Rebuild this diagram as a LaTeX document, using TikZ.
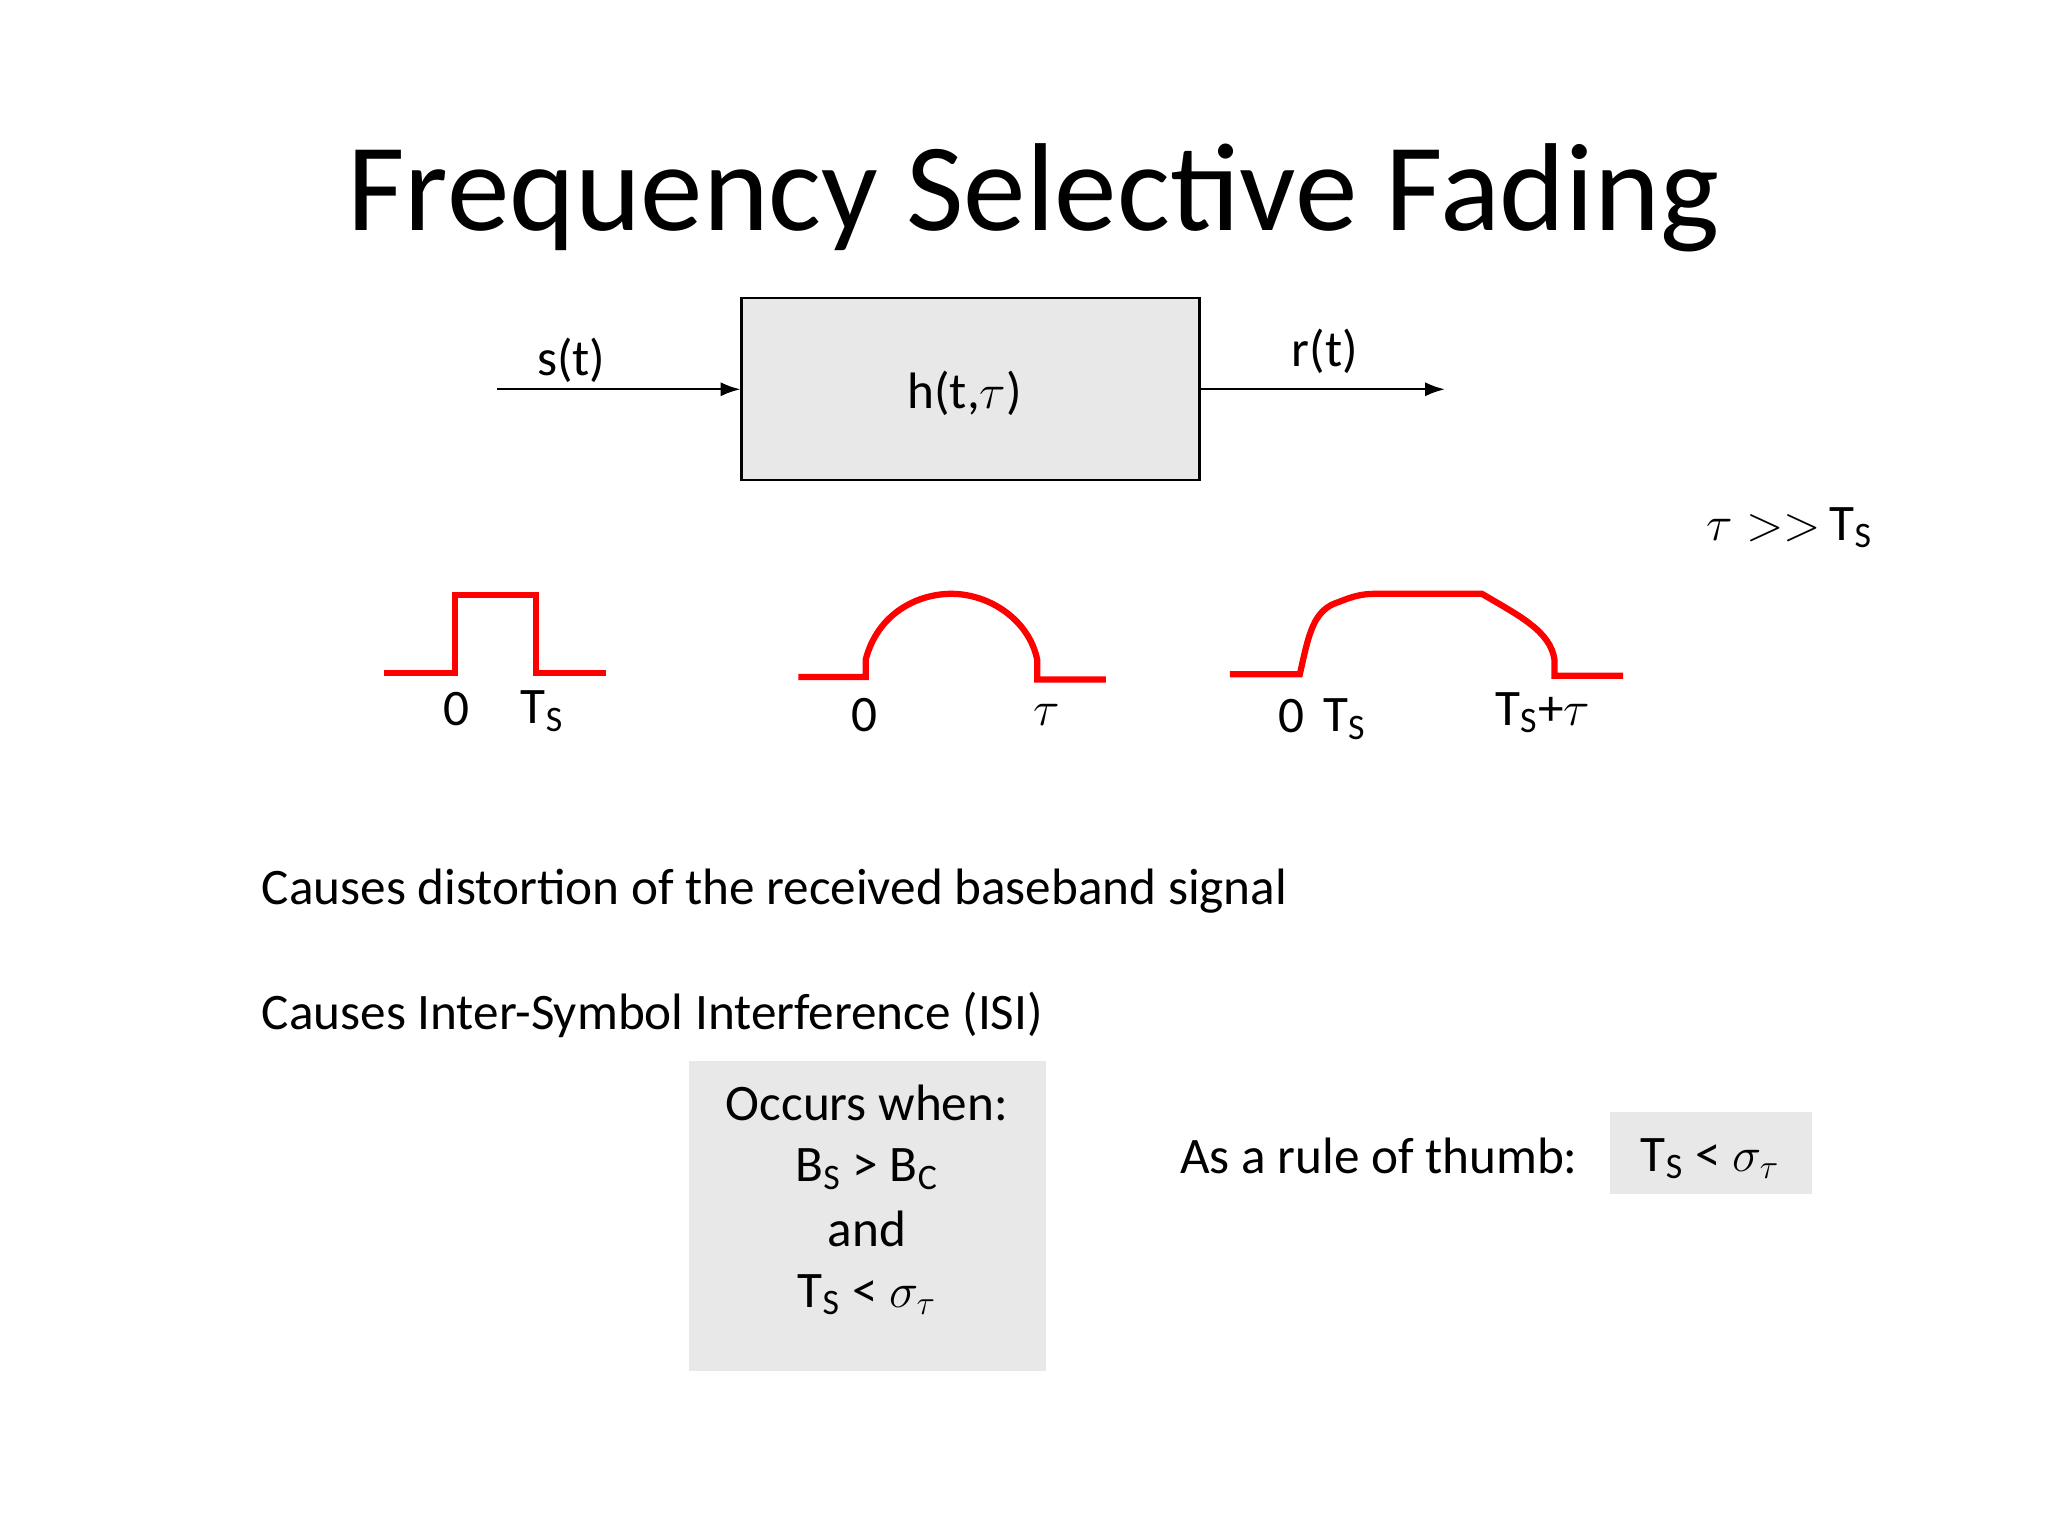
\documentclass[tikz,border=0pt]{standalone}
\usepackage{fontspec}
\setmainfont{Carlito}
\usetikzlibrary{arrows.meta}
\newcommand\TsS{T\textsubscript{S}}
\begin{document}
\begin{tikzpicture}[x=0.464pt,y=-0.464pt,
  sig/.style={red,line width=2.2pt},
  lbl/.style={font=\fontsize{18}{20}\selectfont,inner sep=0pt},
  arr/.style={-{Latex[length=7pt,width=5pt]},line width=0.8pt}]
\useasboundingbox (0,0) rectangle (1552,1164);
\node[font=\fontsize{44}{48}\selectfont] (title) at (783,150) {Frequency Selective Fading};
\node[draw=black,fill=black!9,line width=0.8pt,minimum width=347*0.464pt,minimum height=138*0.464pt] (h) at (735.5,295) {};
\node[lbl] (ht) at (731,298) {h(t,$\tau$)};
\coordinate (sin) at (377,295);
\coordinate (rout) at (1095,295);
\draw[arr] (sin) -- (h.west);
\draw[arr] (h.east) -- (rout);
\node[lbl] (st) at (433,273) {s(t)};
\node[lbl] (rt) at (1004,266) {r(t)};
\node[lbl] (cond) at (1356,400) {$\tau>>$\,\TsS};
% pulses
\draw[sig] (291,510) -- (345,510) -- (345,451) -- (406,451) -- (406,510) -- (459,510);
\node[lbl] (p10) at (346,537) {0};
\node[lbl] (p1t) at (411,539) {\TsS};
\draw[sig] (605,513) -- (656,513) -- (656,500) .. controls (665,465) and (695,450) .. (721,450) .. controls (750,450) and (780,470) .. (786,500) -- (786,515) -- (838,515);
\node[lbl] (p20) at (655,542) {0};
\node[lbl] (p2t) at (793,542) {$\tau$};
\draw[sig] (932,511) -- (985,511) .. controls (992,480) and (995,462) .. (1015,456) .. controls (1025,452) and (1032,450) .. (1042,450) -- (1123,450) .. controls (1150,466) and (1175,478) .. (1178,500) -- (1178,512) -- (1230,512);
\node[lbl] (p30) at (979,543) {0};
\node[lbl] (p3t) at (1019,545) {\TsS};
\node[lbl] (p3e) at (1169,540) {\TsS+$\tau$};
\node[lbl,anchor=west] (l1) at (198,675) {Causes distortion of the received baseband signal};
\node[lbl,anchor=west] (l2) at (198,769) {Causes Inter-Symbol Interference (ISI)};
\fill[black!9] (522,804) rectangle (793,1039);
\node[lbl] (o1) at (657,836) {Occurs when:};
\node[lbl] (o2) at (657,886) {B\textsubscript{S} > B\textsubscript{C}};
\node[lbl] (o3) at (657,931) {and};
\node[lbl] (o4) at (657,981) {\TsS\ < $\sigma_\tau$};
\node[lbl] (rule) at (1045,876) {As a rule of thumb:};
\fill[black!9] (1220,843) rectangle (1373,905);
\node[lbl] (rv) at (1296,878) {\TsS\ < $\sigma_\tau$};
\end{tikzpicture}
\end{document}
